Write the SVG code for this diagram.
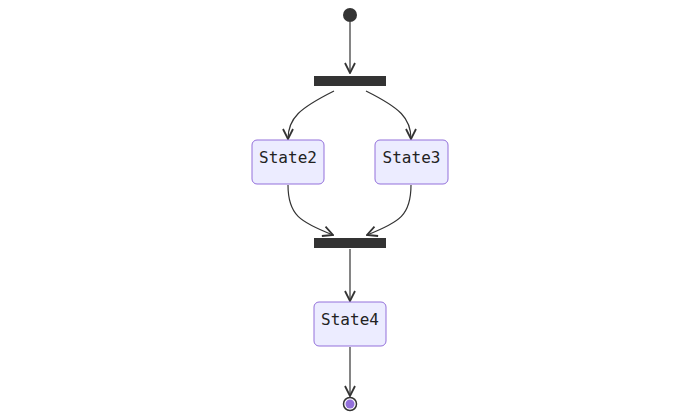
<svg xmlns="http://www.w3.org/2000/svg" width="700" height="419" viewBox="0 0 700 419">
<style>
.st{fill:#ECECFF;stroke:#9370DB;stroke-width:1}
.t{font-family:"DejaVu Sans Mono",monospace;font-size:16px;fill:#222;text-anchor:middle}
.bar{fill:#333}
.e{fill:none;stroke:#333;stroke-width:1.2}
</style>
<defs><marker id="a" viewBox="0 0 12 12" refX="11" refY="6" markerWidth="12" markerHeight="12" markerUnits="userSpaceOnUse" orient="auto"><path d="M1,1 L11,6 L1,11" fill="none" stroke="#333" stroke-width="1.8"/></marker></defs>
<g id="edges">
<path class="e" d="M350,22 V73" marker-end="url(#a)"/>
<path class="e" d="M334,91 C300,108 288,118 288,139" marker-end="url(#a)"/>
<path class="e" d="M366,91 C400,108 411,118 411,139" marker-end="url(#a)"/>
<path class="e" d="M288,185 C288,215 300,222 333,235" marker-end="url(#a)"/>
<path class="e" d="M411,185 C411,215 400,222 367,235" marker-end="url(#a)"/>
<path class="e" d="M350,249 V301" marker-end="url(#a)"/>
<path class="e" d="M350,347 V396" marker-end="url(#a)"/>
</g>
<g id="start"><circle cx="350" cy="15" r="7" fill="#333"/></g>
<g id="fork"><rect class="bar" x="314" y="76" width="72" height="10"/></g>
<g id="State2"><rect class="st" x="252" y="140" width="72" height="44" rx="5"/><text class="t" x="288" y="163">State2</text></g>
<g id="State3"><rect class="st" x="375" y="140" width="73" height="44" rx="5"/><text class="t" x="411.5" y="163">State3</text></g>
<g id="join"><rect class="bar" x="314" y="238" width="72" height="10"/></g>
<g id="State4"><rect class="st" x="314" y="302" width="72" height="44" rx="5"/><text class="t" x="350" y="325">State4</text></g>
<g id="end"><circle cx="350" cy="404" r="6.5" fill="#fff" stroke="#333" stroke-width="1.5"/><circle cx="350" cy="404" r="4.5" fill="#9370DB"/></g>
</svg>
